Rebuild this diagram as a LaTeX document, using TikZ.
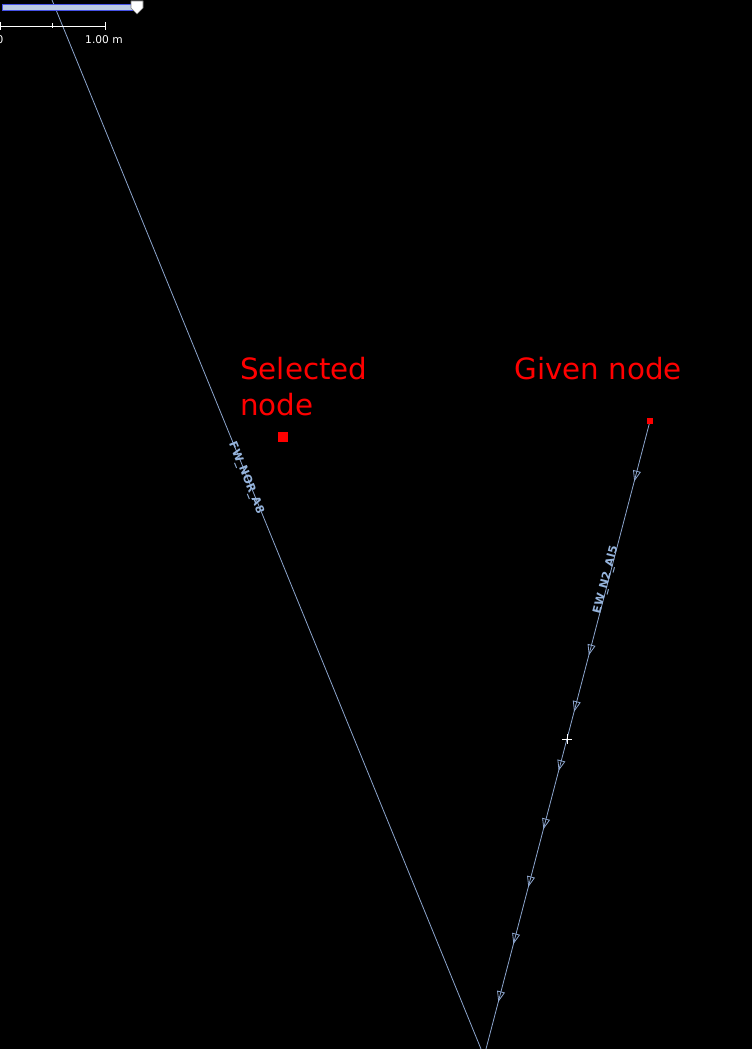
\documentclass[tikz,border=0pt]{standalone}
\usepackage{fontspec}
\setmainfont{DejaVu Sans}
\usetikzlibrary{arrows.meta,decorations.markings}
\definecolor{wire}{RGB}{140,165,205}
\definecolor{lbl}{RGB}{150,180,220}
\begin{document}
\begin{tikzpicture}[x=0.75pt,y=-0.75pt,
  redtxt/.style={text=red,font=\fontsize{22}{27}\selectfont,anchor=north west,align=left,inner sep=0},
  wirelbl/.style={text=lbl,font=\fontsize{8.5}{9}\selectfont\bfseries,inner sep=0},
  tip/.style={},
  mk/.style={postaction={decorate},decoration={markings,
    mark=at position .096 with {\arrow{Triangle[open,length=8pt,width=6pt]}},
    mark=at position .373 with {\arrow{Triangle[open,length=8pt,width=6pt]}},
    mark=at position .463 with {\arrow{Triangle[open,length=8pt,width=6pt]}},
    mark=at position .557 with {\arrow{Triangle[open,length=8pt,width=6pt]}},
    mark=at position .650 with {\arrow{Triangle[open,length=8pt,width=6pt]}},
    mark=at position .742 with {\arrow{Triangle[open,length=8pt,width=6pt]}},
    mark=at position .833 with {\arrow{Triangle[open,length=8pt,width=6pt]}},
    mark=at position .925 with {\arrow{Triangle[open,length=8pt,width=6pt]}}}}]
\fill[black] (0,0) rectangle (752,1049);
\useasboundingbox (0,0) rectangle (752,1049);
% wires
\coordinate (a1) at (52,0);
\coordinate (a2) at (481,1049);
\coordinate (b1) at (650,421);
\coordinate (b2) at (486,1049);
\draw[wire,line width=0.6pt] (a1) -- (a2);
\draw[wire,line width=0.6pt,mk] (b1) -- (b2);
\node[wirelbl,rotate=-67.8] (la) at (246,478) {FW\_NOR\_A8};
\node[wirelbl,rotate=75.4] (lb) at (606,580) {EW\_N2\_Al5};
% nodes
\node[fill=red,minimum size=7.5pt,inner sep=0] (sel) at (283,437) {};
\node[fill=red,minimum size=5pt,inner sep=0] (giv) at (650,421) {};
\node[redtxt] (tsel) at (240,357) {Selected\\node};
\node[redtxt] (tgiv) at (514,357) {Given node};
% cross
\draw[white,line width=0.6pt] (562,739) -- (572,739) (567,734) -- (567,744);
% slider
\draw[fill=wire!60!white,draw=wire!50!blue,line width=0.6pt] (2,4) rectangle (134,10);
\draw[fill=white,draw=gray] (131,1) -- (143,1) -- (143,8) -- (137,14) -- (131,8) -- cycle;
% scale bar
\draw[white,line width=0.6pt] (0,26) -- (105,26) (0,22) -- (0,30) (52,23) -- (52,28) (105,22) -- (105,30);
\node[text=white,font=\fontsize{8}{9}\selectfont,anchor=center,inner sep=0] (s0) at (0,40) {0};
\node[text=white,font=\fontsize{8}{9}\selectfont,anchor=center,inner sep=0] (s1) at (104,40) {1.00 m};
\end{tikzpicture}
\end{document}
